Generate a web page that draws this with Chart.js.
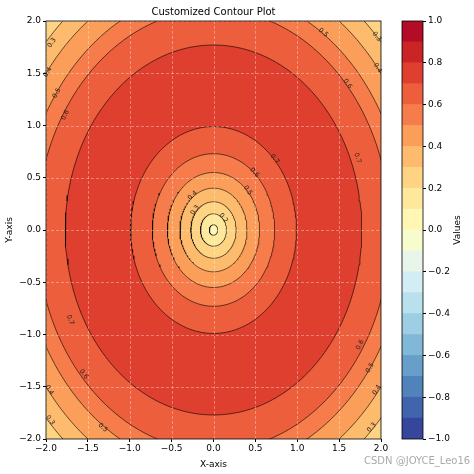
<!DOCTYPE html>
<html><head><meta charset="utf-8">
<script src="https://cdn.jsdelivr.net/npm/chart.js@4"></script>
<style>body{margin:0;background:#fff;width:474px;height:474px;overflow:hidden;font-family:"DejaVu Sans"}
#c1{position:absolute;left:0;top:0}#c2{position:absolute;left:390px;top:0}
#wm{position:absolute;left:364px;top:455px;font:10px "DejaVu Sans";color:#aaa}</style>
</head><body>
<canvas id="c1" width="390" height="474"></canvas>
<canvas id="c2" width="84" height="474"></canvas>
<div id="wm">CSDN @JOYCE_Leo16</div>
<script>
// contour levels and radii (radial contours)
const innerLevels = [0.1,0.2,0.3,0.4,0.5,0.6,0.7];
const innerRadii  = [0.05,0.155,0.27,0.40,0.55,0.73,0.99];
const outerLevels = [0.7,0.6,0.5,0.4,0.3];
const outerRadii  = [1.77,2.11,2.29,2.50,2.69];
const cornerBand = [0.2,0.3];
const axisTicks = [-2,-1.5,-1,-0.5,0,0.5,1,1.5,2];
const cbTicks = [-1,-0.8,-0.6,-0.4,-0.2,0,0.2,0.4,0.6,0.8,1];
const labelText = ['0.2','0.3','0.4','0.5','0.6','0.7','0.7','0.7','0.6','0.6','0.6','0.6','0.5','0.5','0.5','0.5','0.4','0.4','0.4','0.4','0.3','0.3','0.3','0.3'];
const labelX = [0.12,-0.22,-0.25,0.41,0.49,0.73,-1.71,1.72,-1.77,1.60,-1.55,1.75,-1.87,1.31,-1.32,1.87,-1.98,1.96,-1.96,1.95,-1.93,1.95,-1.95,1.89];
const labelY = [0.115,0.19,0.33,0.38,0.55,0.68,-0.86,0.69,1.10,1.40,-1.38,-1.10,1.31,1.89,-1.89,-1.32,1.51,1.55,-1.53,-1.53,1.79,1.85,-1.82,-1.89];

const stops=['#313695','#4575b4','#74add1','#abd9e9','#e0f3f8','#ffffbf','#fee090','#fdae61','#f46d43','#d73027','#a50026'];
function hx(h){return [1,3,5].map(i=>parseInt(h.substr(i,2),16));}
function cmap(t){t=Math.max(0,Math.min(1,t));const p=t*10,i=Math.min(9,Math.floor(p)),f=p-i;const a=hx(stops[i]),b=hx(stops[i+1]);
 return 'rgb('+a.map((v,k)=>Math.round(v+(b[k]-v)*f)).join(',')+')';}
function band(lo){return cmap(((lo+0.05)+1)/2);}
function fmt(v){const s=Math.abs(v).toFixed(1);return v<-1e-9?'\u2212'+s:s;}
function circle(r){const p=[];for(let i=0;i<=200;i++){const a=Math.PI/2+i/200*2*Math.PI;p.push({x:r*Math.cos(a),y:r*Math.sin(a)});}return p;}

const ds=[];
const allC=[];
outerRadii.forEach((r,i)=>allC.push({r,lo:outerLevels[i]}));
innerRadii.forEach((r,i)=>allC.push({r,lo:Math.round((innerLevels[i]-0.1)*10)/10}));
allC.sort((a,b)=>b.r-a.r);
allC.forEach((c,i)=>{
  ds.push({data:circle(c.r),showLine:true,pointRadius:0,borderColor:'rgba(0,0,0,0.75)',borderWidth:0.8,borderJoinStyle:'round',
    backgroundColor:band(c.lo),fill:'shape',order:allC.length-i,tension:0});
});
const bgPlugin={id:'bg',beforeDatasetsDraw(ch){const a=ch.chartArea,c=ch.ctx;c.save();c.fillStyle=band(cornerBand[0]);c.fillRect(a.left,a.top,a.right-a.left,a.bottom-a.top);c.restore();}};
const lblPlugin={id:'lbl',afterDatasetsDraw(ch){const c=ch.ctx,xs=ch.scales.x,ys=ch.scales.y,a=ch.chartArea;
  c.save();
  c.strokeStyle='rgba(255,255,255,0.5)';c.lineWidth=0.7;c.setLineDash([3,2]);
  axisTicks.forEach(v=>{const px=Math.round(xs.getPixelForValue(v))+0.5,py=Math.round(ys.getPixelForValue(v))+0.5;
    c.beginPath();c.moveTo(px,a.top);c.lineTo(px,a.bottom);c.stroke();
    c.beginPath();c.moveTo(a.left,py);c.lineTo(a.right,py);c.stroke();});
  c.setLineDash([]);
  c.font='6.5px "DejaVu Sans"';c.fillStyle='#222';c.textAlign='center';c.textBaseline='middle';
  const cx=xs.getPixelForValue(0),cy=ys.getPixelForValue(0);
  labelText.forEach((t,i)=>{const px=xs.getPixelForValue(labelX[i]),py=ys.getPixelForValue(labelY[i]);
    let tx=-(py-cy)*xs.width/ys.height, ty=(px-cx)*ys.height/xs.width;
    let ang=Math.atan2(ty,tx); if(ang>Math.PI/2)ang-=Math.PI; if(ang<-Math.PI/2)ang+=Math.PI;
    c.save();c.translate(px,py);c.rotate(ang);c.fillText(t,0,0);c.restore();});
  c.strokeStyle='#000';c.lineWidth=0.8;c.strokeRect(a.left,a.top,a.right-a.left,a.bottom-a.top);
  c.font='10px "DejaVu Sans"';c.fillStyle='#000';c.textAlign='center';c.fillText('Customized Contour Plot',(a.left+a.right)/2,12);
  c.restore();}};
const grid={drawOnChartArea:false,tickColor:'#000',tickLength:3,drawTicks:true};
new Chart(document.getElementById('c1'),{type:'scatter',data:{datasets:ds},plugins:[bgPlugin,lblPlugin],
 options:{responsive:false,animation:false,devicePixelRatio:1,layout:{padding:{top:21,right:9,left:0,bottom:0}},
  plugins:{legend:{display:false},tooltip:{enabled:false}},
  scales:{
   x:{type:'linear',min:-2,max:2,afterFit(s){s.height=35;},afterBuildTicks(s){s.ticks=axisTicks.map(v=>({value:v}));},
     border:{display:false},grid:grid,
     ticks:{callback:v=>fmt(v),color:'#000',font:{size:9,family:'DejaVu Sans'},maxRotation:0,padding:1},
     title:{display:true,text:'X-axis',color:'#000',font:{size:9,family:'DejaVu Sans'},padding:{top:0}}},
   y:{type:'linear',min:-2,max:2,afterFit(s){s.width=46;},afterBuildTicks(s){s.ticks=axisTicks.map(v=>({value:v}));},
     border:{display:false},grid:grid,
     ticks:{callback:v=>fmt(v),color:'#000',font:{size:9,family:'DejaVu Sans'},padding:2},
     title:{display:true,text:'Y-axis',color:'#000',font:{size:9,family:'DejaVu Sans'},padding:{bottom:0}}}}}});

// colorbar
const cbDs=[];for(let k=0;k<20;k++){const lo=Math.round((-1+k*0.1)*10)/10;
 cbDs.push({data:[[lo,lo+0.1]],backgroundColor:band(lo),borderWidth:0,grouped:false,barPercentage:1,categoryPercentage:1});}
new Chart(document.getElementById('c2'),{type:'bar',data:{labels:['a'],datasets:cbDs},
 plugins:[{id:'cbb',afterDraw(ch){const a=ch.chartArea,c=ch.ctx;c.save();c.strokeStyle='#000';c.lineWidth=0.8;c.strokeRect(a.left,a.top,a.right-a.left,a.bottom-a.top);
   c.translate(68,(a.top+a.bottom)/2);c.rotate(-Math.PI/2);c.font='9px "DejaVu Sans"';c.fillStyle='#000';c.textAlign='center';c.textBaseline='middle';c.fillText('Values',0,0);c.restore();}}],
 options:{responsive:false,animation:false,devicePixelRatio:1,layout:{padding:{top:21,left:12,bottom:35,right:0}},
  plugins:{legend:{display:false},tooltip:{enabled:false}},
  scales:{x:{display:false},
   y:{position:'right',min:-1,max:1,afterFit(s){s.width=51;},afterBuildTicks(s){s.ticks=cbTicks.map(v=>({value:v}));},
    grid:{drawOnChartArea:false,tickColor:'#000',tickLength:3},border:{display:false},
    ticks:{callback:v=>fmt(v),color:'#000',font:{size:9,family:'DejaVu Sans'},padding:2}}}}});
</script></body></html>
